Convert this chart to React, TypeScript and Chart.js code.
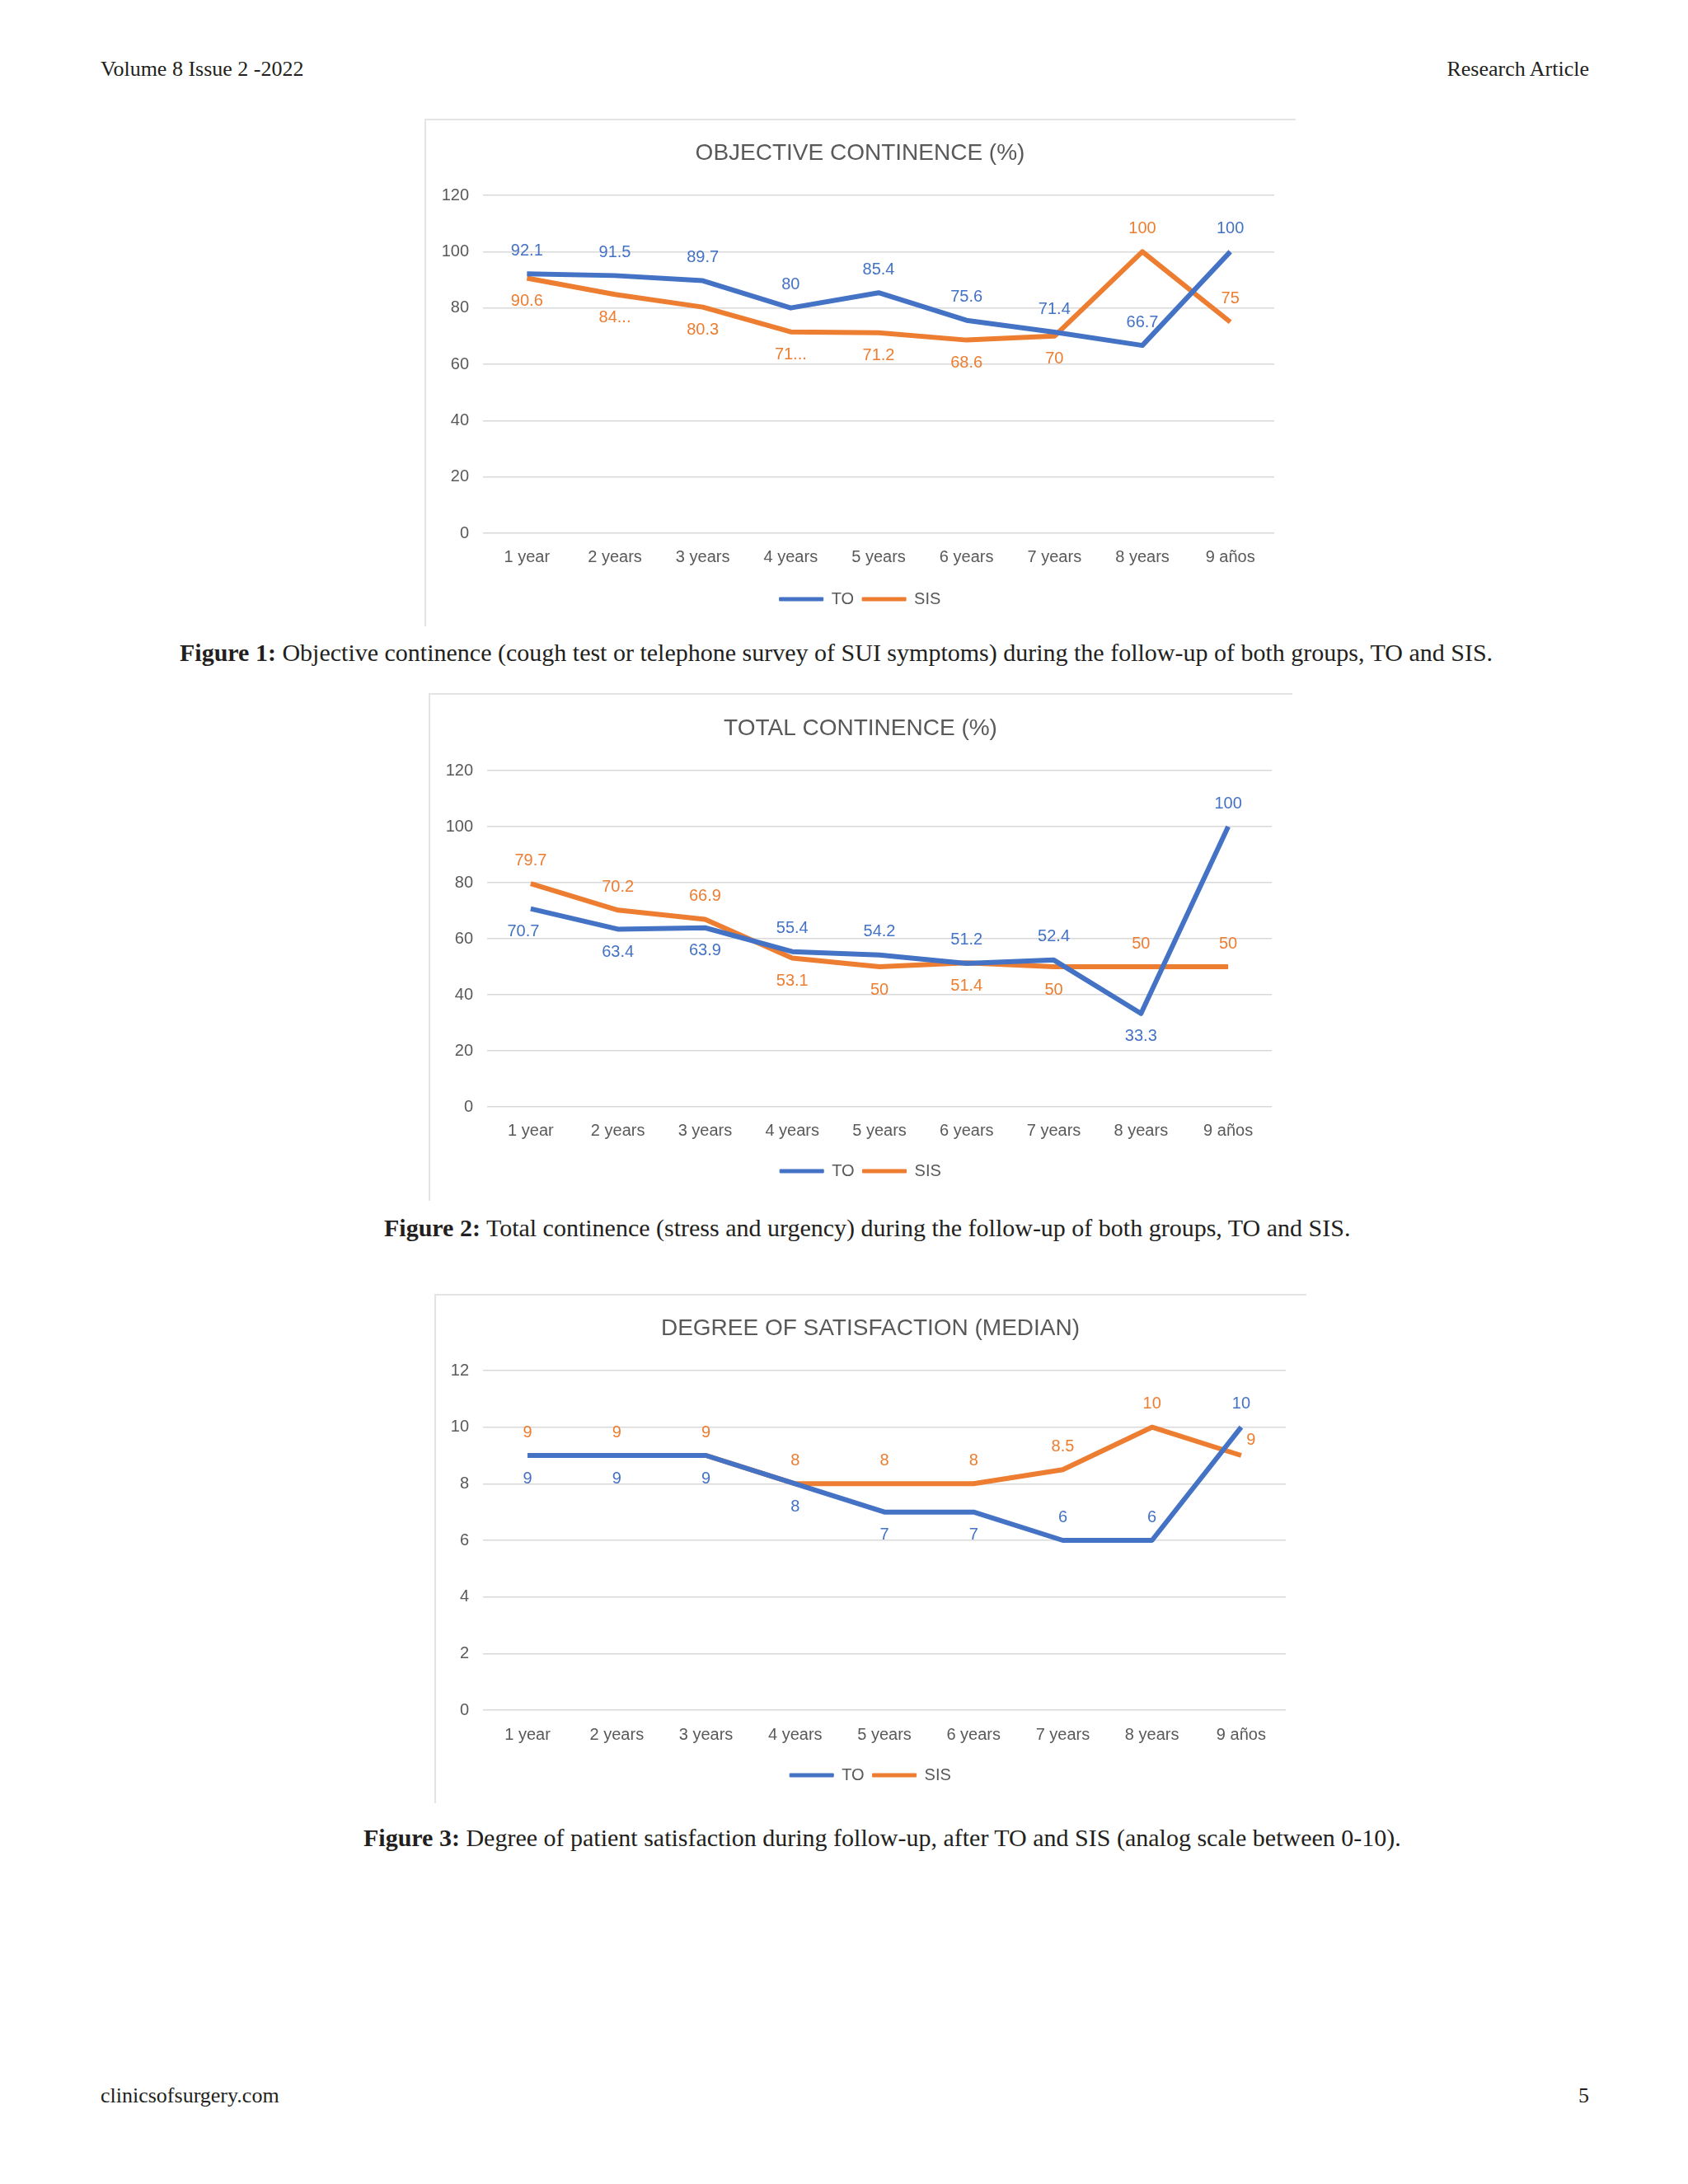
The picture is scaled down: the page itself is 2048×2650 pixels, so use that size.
import React, { useEffect, useRef } from 'react';
import { Chart, registerables } from 'chart.js';

Chart.register(...registerables);

// ---------- data ----------
const CATEGORIES = ['1 year', '2 years', '3 years', '4 years', '5 years', '6 years', '7 years', '8 years', '9 años'];
const SERIES_NAMES = ['TO', 'SIS'];

const OBJ_TO = [92.1, 91.5, 89.7, 80, 85.4, 75.6, 71.4, 66.7, 100];
const OBJ_SIS = [90.6, 84.8, 80.3, 71.5, 71.2, 68.6, 70, 100, 75];
const OBJ_SIS_TEXT = ['90.6', '84...', '80.3', '71...', '71.2', '68.6', '70', '100', '75'];

const TOT_TO = [70.7, 63.4, 63.9, 55.4, 54.2, 51.2, 52.4, 33.3, 100];
const TOT_SIS = [79.7, 70.2, 66.9, 53.1, 50, 51.4, 50, 50, 50];

const SAT_TO = [9, 9, 9, 8, 7, 7, 6, 6, 10];
const SAT_SIS = [9, 9, 9, 8, 8, 8, 8.5, 10, 9];

// ---------- label placement (style) ----------
const OBJ_TO_POS = ['a', 'a', 'a', 'a', 'a', 'a', 'a', 'a', 'a'];
const OBJ_SIS_POS = ['b', 'b', 'b', 'b', 'b', 'b', 'b', 'a', 'a'];
const TOT_TO_POS = ['bl', 'b', 'b', 'a', 'a', 'a', 'a', 'b', 'a'];
const TOT_SIS_POS = ['a', 'a', 'a', 'b', 'b', 'b', 'b', 'a', 'a'];
const SAT_TO_POS = ['b', 'b', 'b', 'b', 'b', 'b', 'a', 'a', 'a'];
const SAT_SIS_POS = ['a', 'a', 'a', 'a', 'a', 'a', 'a', 'a', 'ar'];

const BLUE = '#4472C4';
const ORANGE = '#ED7D31';
const TEXT_GRAY = '#595959';
const FONT = '"Liberation Sans", Arial, sans-serif';

const pointLabelPlugin = {
  id: 'pointLabels',
  afterDatasetsDraw(chart: any, _args: any, opts: any) {
    const { ctx } = chart;
    ctx.save();
    ctx.font = `${opts.size}px ${FONT}`;
    ctx.textAlign = 'center';
    ctx.textBaseline = 'middle';
    chart.data.datasets.forEach((ds: any, i: number) => {
      const meta = chart.getDatasetMeta(i);
      const texts = opts.texts[i];
      const pos = opts.pos[i];
      ctx.fillStyle = opts.colors[i];
      meta.data.forEach((el: any, j: number) => {
        const p = pos[j];
        let dx = 0;
        let dy = 0;
        const off = opts.offset;
        if (p === 'a') dy = -off;
        else if (p === 'b') dy = off;
        else if (p === 'ar') { dx = 12; dy = -19; }
        else if (p === 'bl') { dx = -9; dy = off; }
        const t = texts ? texts[j] : String(ds.data[j]);
        ctx.fillText(t, el.x + dx, el.y + dy);
      });
    });
    ctx.restore();
  },
};

type Box = { l: number; t: number; w: number; h: number };
type Plot = { l: number; r: number; t: number; b: number };

function LineChart(props: {
  box: Box; plot: Plot; title: string; titleY: number; xLabelY: number; legendY: number;
  yMax: number; yStep: number; to: number[]; sis: number[];
  toText?: string[]; sisText?: string[]; toPos: string[]; sisPos: string[];
}) {
  const ref = useRef<HTMLCanvasElement>(null);
  useEffect(() => {
    const { box, plot } = props;
    const W = box.w;
    const H = box.h;
    const plotLeft = plot.l - box.l;
    const plotRight = plot.r - box.l;
    const plotTop = plot.t - box.t;
    const plotBottom = plot.b - box.t;
    const rightW = W - plotRight;
    const yW = plotLeft;
    const TITLE_SIZE = 28;
    const tlh = TITLE_SIZE * 1.2;
    const titleCY = props.titleY - box.t;
    const titlePadTop = titleCY - tlh / 2;
    const titlePadBottom = plotTop - titleCY - tlh / 2;
    const LEG_FONT = 20;
    const LEG_PAD = 10;
    const legendCY = props.legendY - box.t;
    const legendTop = legendCY - LEG_PAD - LEG_FONT / 2;
    const xAxisH = legendTop - plotBottom;
    const legendH = LEG_FONT + LEG_PAD + 10;
    const padB = H - legendTop - legendH;
    const xPad = props.xLabelY - box.t - plotBottom - 12;

    const lineStyle = { borderWidth: 6, pointRadius: 0, tension: 0, borderJoinStyle: 'round', borderCapStyle: 'butt' };

    const chart = new Chart(ref.current as HTMLCanvasElement, {
      type: 'line',
      data: {
        labels: CATEGORIES,
        datasets: [
          { label: SERIES_NAMES[0], data: props.to, borderColor: BLUE, backgroundColor: BLUE, ...lineStyle },
          { label: SERIES_NAMES[1], data: props.sis, borderColor: ORANGE, backgroundColor: ORANGE, ...lineStyle },
        ],
      },
      options: {
        responsive: false,
        animation: false,
        devicePixelRatio: 1,
        layout: { padding: { left: 0, right: 0, top: 0, bottom: padB } },
        scales: {
          x: {
            offset: true,
            grid: { display: false, drawTicks: false },
            border: { display: false },
            ticks: { color: TEXT_GRAY, font: { family: FONT, size: 20 }, padding: xPad, maxRotation: 0, autoSkip: false },
            afterFit: (s: any) => { s.height = xAxisH; },
          },
          y: {
            min: 0, max: props.yMax,
            grid: { color: '#d9d9d9', lineWidth: 1.6, drawTicks: false },
            border: { display: false },
            ticks: { stepSize: props.yStep, color: TEXT_GRAY, font: { family: FONT, size: 20 }, padding: 17 },
            afterFit: (s: any) => { s.width = yW; },
          },
          margin: {
            position: 'right',
            grid: { display: false, drawTicks: false },
            border: { display: false },
            ticks: { display: false },
            afterFit: (s: any) => { s.width = rightW; },
          },
        },
        plugins: {
          title: {
            display: true, text: props.title, color: TEXT_GRAY,
            font: { family: FONT, size: TITLE_SIZE, weight: 'normal', lineHeight: 1.2 },
            padding: { top: titlePadTop, bottom: titlePadBottom },
          },
          legend: {
            display: true, position: 'bottom',
            labels: {
              color: TEXT_GRAY, font: { family: FONT, size: LEG_FONT }, boxWidth: 53, boxHeight: 4, padding: LEG_PAD,
              generateLabels: (c: any) =>
                Chart.defaults.plugins.legend.labels.generateLabels(c).map((l: any) => ({ ...l, lineWidth: 1 })),
            },
          },
          tooltip: { enabled: false },
          pointLabels: {
            size: 20, offset: 28,
            colors: [BLUE, ORANGE],
            texts: [props.toText || null, props.sisText || null],
            pos: [props.toPos, props.sisPos],
          },
        } as any,
      } as any,
      plugins: [pointLabelPlugin],
    });
    return () => chart.destroy();
  }, []);
  const { box } = props;
  return (
    <div style={{ position: 'absolute', left: box.l, top: box.t, width: box.w, height: box.h }}>
      <canvas ref={ref} width={box.w} height={box.h} style={{ display: 'block', width: box.w, height: box.h }} />
      <div style={{ position: 'absolute', left: 0, top: 0, width: box.w, height: box.h, borderTop: '2px solid #e4e4e4', borderLeft: '2px solid #e4e4e4', boxSizing: 'border-box', pointerEvents: 'none' }} />
    </div>
  );
}

const captionStyle: React.CSSProperties = {
  position: 'absolute', fontSize: 30, lineHeight: '34px', whiteSpace: 'nowrap', color: '#231f20',
};

export default function App() {
  return (
    <div style={{ position: 'absolute', left: 0, top: 0, width: 2048, height: 2650, background: '#fff', fontFamily: '"Liberation Serif", "Times New Roman", serif', color: '#231f20' }}>
      <div style={{ position: 'absolute', left: 122, top: 69, fontSize: 26, lineHeight: '30px' }}>Volume 8 Issue 2 -2022</div>
      <div style={{ position: 'absolute', right: 120, top: 69, fontSize: 26, lineHeight: '30px' }}>Research Article</div>

      <LineChart
        box={{ l: 515, t: 144, w: 1057, h: 616 }}
        plot={{ l: 586, r: 1546, t: 237, b: 647 }}
        title="OBJECTIVE CONTINENCE (%)" titleY={186} xLabelY={676} legendY={727}
        yMax={120} yStep={20} to={OBJ_TO} sis={OBJ_SIS} sisText={OBJ_SIS_TEXT}
        toPos={OBJ_TO_POS} sisPos={OBJ_SIS_POS}
      />
      <div style={{ ...captionStyle, left: 218, top: 775 }}>
        <b>Figure 1:</b> Objective continence (cough test or telephone survey of SUI symptoms) during the follow-up of both groups, TO and SIS.
      </div>

      <LineChart
        box={{ l: 520, t: 841, w: 1048, h: 616 }}
        plot={{ l: 591, r: 1543, t: 935, b: 1343 }}
        title="TOTAL CONTINENCE (%)" titleY={884} xLabelY={1372} legendY={1421}
        yMax={120} yStep={20} to={TOT_TO} sis={TOT_SIS}
        toPos={TOT_TO_POS} sisPos={TOT_SIS_POS}
      />
      <div style={{ ...captionStyle, left: 466, top: 1473 }}>
        <b>Figure 2:</b> Total continence (stress and urgency) during the follow-up of both groups, TO and SIS.
      </div>

      <LineChart
        box={{ l: 527, t: 1570, w: 1058, h: 618 }}
        plot={{ l: 586, r: 1560, t: 1663, b: 2075 }}
        title="DEGREE OF SATISFACTION (MEDIAN)" titleY={1612} xLabelY={2105} legendY={2154}
        yMax={12} yStep={2} to={SAT_TO} sis={SAT_SIS}
        toPos={SAT_TO_POS} sisPos={SAT_SIS_POS}
      />
      <div style={{ ...captionStyle, left: 441, top: 2213 }}>
        <b>Figure 3:</b> Degree of patient satisfaction during follow-up, after TO and SIS (analog scale between 0-10).
      </div>

      <div style={{ position: 'absolute', left: 122, top: 2528, fontSize: 26, lineHeight: '30px' }}>clinicsofsurgery.com</div>
      <div style={{ position: 'absolute', right: 120, top: 2528, fontSize: 26, lineHeight: '30px' }}>5</div>
    </div>
  );
}
